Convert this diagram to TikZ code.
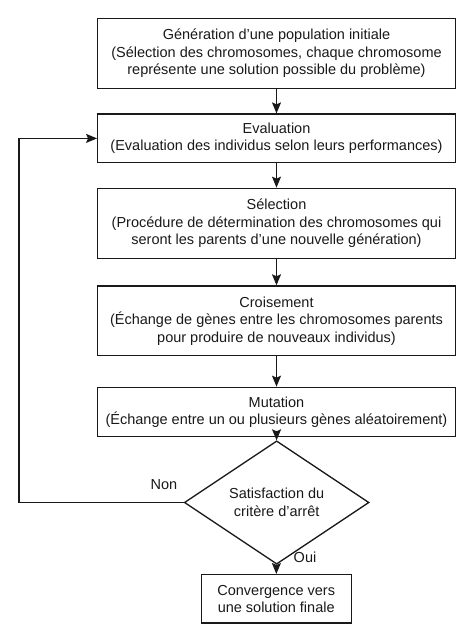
\documentclass[tikz,border=0pt]{standalone}
\usepackage{fontspec}
\setmainfont{Liberation Sans}
\usetikzlibrary{shapes.geometric,arrows.meta}
\begin{document}
\begin{tikzpicture}[x=1pt,y=-1pt,
  box/.style={draw=black!90, line width=1.3pt, align=center, inner sep=0pt,
    font=\fontsize{14.5}{17.5}\selectfont, text=black!90},
  decis/.style={draw=black!90, line width=1.3pt, diamond, align=center, inner sep=0pt,
    font=\fontsize{14.5}{17.5}\selectfont, text=black!90},
  lbl/.style={font=\fontsize{14.5}{17.5}\selectfont, text=black!90},
  arr/.style={-{Stealth[length=11pt,width=9pt,inset=2pt]}, line width=1.3pt, draw=black!90}]
\useasboundingbox (0,0) rectangle (474,642);
\node[box, minimum width=357.6pt, minimum height=70pt] (gen) at (276.5,53.3)
  {Génération d’une population initiale\\(Sélection des chromosomes, chaque chromosome\\représente une solution possible du problème)};
\node[box, minimum width=357.6pt, minimum height=48.7pt] (eval) at (276.5,138.4)
  {Evaluation\\(Evaluation des individus selon leurs performances)};
\node[box, minimum width=357.6pt, minimum height=70pt] (sel) at (276.5,223.3)
  {Sélection\\(Procédure de détermination des chromosomes qui\\seront les parents d'une nouvelle génération)};
\node[box, minimum width=357.6pt, minimum height=69.7pt] (crois) at (276.5,320.8)
  {Croisement\\(Échange de gènes entre les chromosomes parents\\pour produire de nouveaux individus)};
\node[box, minimum width=357.6pt, minimum height=49.4pt] (mut) at (276.5,412)
  {Mutation\\(Échange entre un ou plusieurs gènes aléatoirement)};
\node[decis, minimum width=184.7pt, minimum height=70.4pt] (dec) at (276.7,502.5)
  {Satisfaction du\\critère d'arrêt};
\node[box, minimum width=150pt, minimum height=48.3pt] (fin) at (276.2,598.8)
  {Convergence vers\\une solution finale};
\coordinate (lc) at (19,502.5);
\draw[arr] (gen) -- (eval);
\draw[arr] (eval) -- (sel);
\draw[arr] (sel) -- (crois);
\draw[arr] (crois) -- (mut);
\draw[arr] (mut) -- (dec);
\draw[arr] (dec) -- (fin);
\draw[arr] (dec.west) -- (lc) |- (eval.west);
\node[lbl] (non) at (164,485) {Non};
\node[lbl] (oui) at (305,557) {Oui};
\end{tikzpicture}
\end{document}
